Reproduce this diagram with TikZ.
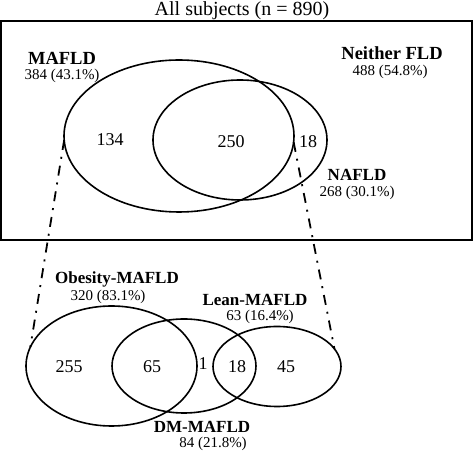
\documentclass[tikz,border=0pt]{standalone}
\usepackage{fontspec}
\setmainfont{Liberation Serif}
\usetikzlibrary{shapes.geometric}

\begin{document}
\begin{tikzpicture}[
      x=1pt, y=1pt,
      venn/.style={
        draw,
        line width=1.6pt,
        ellipse,
        inner sep=0pt,
        outer sep=0pt
      },
      grp/.style={font=\fontsize{17}{19}\selectfont\bfseries},
      biggrp/.style={font=\fontsize{18.5}{20}\selectfont\bfseries},
      cnt/.style={font=\fontsize{15}{17}\selectfont},
      num/.style={font=\fontsize{18}{20}\selectfont},
      zoomline/.style={
        line width=1.8pt,
        dash pattern=on 10pt off 7pt on 2pt off 7pt
      }
    ]
    \useasboundingbox (0,0) rectangle (474,452);

    % all subjects
    \node[font=\fontsize{20}{22}\selectfont] (title) at (242,441)
      {All subjects (n = 890)};
    \draw[line width=1.6pt] (1,212) rectangle (472,431);

    \node[venn,minimum width=230,minimum height=152] (mafld) at (179,316) {};
    \node[venn,minimum width=174,minimum height=120] (nafld) at (240,312) {};

    \node[biggrp] (mafldlbl) at (62,394) {MAFLD};
    \node[cnt] (mafldn) at (62,376) {384 (43.1\%)};
    \node[biggrp] (neitherlbl) at (392,399) {Neither FLD};
    \node[cnt] (neithern) at (390,380) {488 (54.8\%)};
    \node[grp] (nafldlbl) at (357,277) {NAFLD};
    \node[cnt] (nafldn) at (357,259) {268 (30.1\%)};

    \node[num] (onlym) at (110,312) {134};
    \node[num] (both) at (231,310) {250};
    \node[num] (onlyn) at (308,310) {18};

    % MAFLD subtypes
    \node[venn,minimum width=171,minimum height=120] (obese) at (111.5,86) {};
    \node[venn,minimum width=144,minimum height=94] (dm) at (184,86) {};
    \node[venn,minimum width=128,minimum height=80] (lean) at (277,85.5) {};

    \node[grp] (obeselbl) at (117,173) {Obesity-MAFLD};
    \node[cnt] (obesen) at (108,155) {320 (83.1\%)};
    \node[grp] (leanlbl) at (255,152) {Lean-MAFLD};
    \node[cnt] (leann) at (260,135) {63 (16.4\%)};
    \node[grp] (dmlbl) at (202,25) {DM-MAFLD};
    \node[cnt] (dmn) at (213,8) {84 (21.8\%)};

    \node[num] (onlyo) at (69,85) {255};
    \node[num] (od) at (152,85) {65};
    \node[num] (onlyd) at (203,88) {1};
    \node[num] (dl) at (237,85) {18};
    \node[num] (onlyl) at (286,85) {45};

    \draw[zoomline] (mafld.182) -- (obese.167);
    \draw[zoomline] (mafld.357) -- (lean.17);

  \end{tikzpicture}
\end{document}
